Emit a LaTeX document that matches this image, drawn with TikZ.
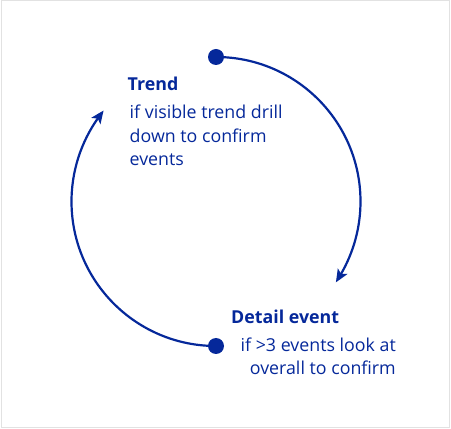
\documentclass[tikz,border=0pt]{standalone}
\usepackage{fontspec}
\setmainfont{Open Sans}
\usetikzlibrary{arrows.meta,bending}
\definecolor{cycblue}{HTML}{05289A}
\definecolor{framegray}{HTML}{E2E2E2}
\tikzset{
  dotnode/.style={circle,fill=cycblue,inner sep=0pt,minimum size=16pt},
  cyclearc/.style={draw=cycblue,line width=2.2pt,-{Stealth[length=13pt,width=11pt,inset=3pt,bend]}},
  titletext/.style={text=cycblue,inner sep=0pt,font=\fontsize{17.8}{24}\selectfont\bfseries},
  bodytext/.style={text=cycblue,inner sep=0pt,font=\fontsize{17.8}{23.8}\selectfont}
}
\begin{document}
\begin{tikzpicture}[x=1pt,y=1pt]
\useasboundingbox (0,0) rectangle (451,429);
\draw[framegray,line width=1pt] (1,1) rectangle (449.5,428);
% circle centre (216,227.5), radius 144.5
\node[dotnode] (topdot) at (216,372) {};
\node[dotnode] (botdot) at (216,83) {};
\draw[cyclearc] (topdot.center) arc[start angle=90,end angle=-34,radius=144.5];
\draw[cyclearc] (botdot.center) arc[start angle=-90,end angle=-219,radius=144.5];
\node[titletext,anchor=base west] (trendtitle) at (127.5,338.3) {Trend};
\node[bodytext,anchor=base west,align=left] (trendbody) at (129.5,263) {if visible trend drill\\down to confirm\\events};
\node[titletext,anchor=base west] (detailtitle) at (231,105) {Detail event};
\node[bodytext,anchor=base east,align=right] (detailbody) at (396,54) {if >3 events look at\\overall to confirm};
\end{tikzpicture}
\end{document}
